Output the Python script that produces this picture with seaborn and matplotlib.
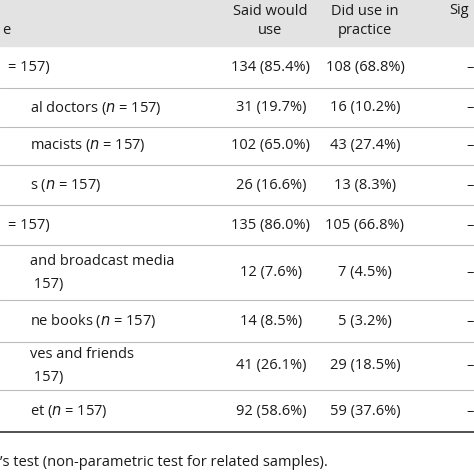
import matplotlib
matplotlib.use("Agg")
import matplotlib.pyplot as plt
import seaborn as sns

sns.set_theme(style="white")
plt.rcParams['font.family'] = ['Open Sans', 'DejaVu Sans']

labels = [["= 157)"], ["al doctors ($n$ = 157)"], ["macists ($n$ = 157)"],
          ["s ($n$ = 157)"], ["= 157)"], ["and broadcast media", " 157)"],
          ["ne books ($n$ = 157)"], ["ves and friends", " 157)"], ["et ($n$ = 157)"]]
label_x = [8, 30, 30, 30, 8, 30, 30, 30, 30]
said = ["134 (85.4%)", "31 (19.7%)", "102 (65.0%)", "26 (16.6%)", "135 (86.0%)",
        "12 (7.6%)", "14 (8.5%)", "41 (26.1%)", "92 (58.6%)"]
did = ["108 (68.8%)", "16 (10.2%)", "43 (27.4%)", "13 (8.3%)", "105 (66.8%)",
       "7 (4.5%)", "5 (3.2%)", "29 (18.5%)", "59 (37.6%)"]
sig = ["–"] * 9
bounds = [46, 88, 127, 165, 205, 245, 300, 342, 390, 432]

fig = plt.figure(figsize=(4.74, 4.74), dpi=100)
ax = fig.add_axes([0, 0, 1, 1])
ax.set_xlim(0, 474); ax.set_ylim(474, 0); ax.axis("off")
c = "#1a1a1a"
ax.add_patch(plt.Rectangle((0, 0), 474, bounds[0], color="#e3e3e3", zorder=0))
fs = 10.5
ax.text(2, 30, "e", fontsize=fs, color=c, va="center")
ax.text(270, 21, "Said would\nuse", fontsize=fs, color=c, ha="center", va="center", linespacing=1.3)
ax.text(365, 21, "Did use in\npractice", fontsize=fs, color=c, ha="center", va="center", linespacing=1.3)
ax.text(449, 10, "Sig", fontsize=fs, color=c, va="center")
for i in range(9):
    top, bot = bounds[i], bounds[i+1]
    yc = (top + bot) / 2
    lab = labels[i]
    if len(lab) == 1:
        ax.text(label_x[i], yc, lab[0], fontsize=fs, color=c, va="center")
    else:
        ax.text(label_x[i], yc - 11, lab[0], fontsize=fs, color=c, va="center")
        ax.text(label_x[i], yc + 12, lab[1], fontsize=fs, color=c, va="center")
    ax.text(271, yc, said[i], fontsize=fs, color=c, ha="center", va="center")
    ax.text(365, yc, did[i], fontsize=fs, color=c, ha="center", va="center")
    ax.text(466, yc, sig[i], fontsize=fs, color=c, va="center")
    if i < 8:
        ax.plot([0, 474], [bot, bot], color="#bbbbbb", lw=0.8)
ax.plot([0, 474], [bounds[-1], bounds[-1]], color="#333333", lw=1.2)
ax.text(0, 462, "’s test (non-parametric test for related samples).", fontsize=fs, color=c, va="center")
fig.savefig("out.png", dpi=100)
